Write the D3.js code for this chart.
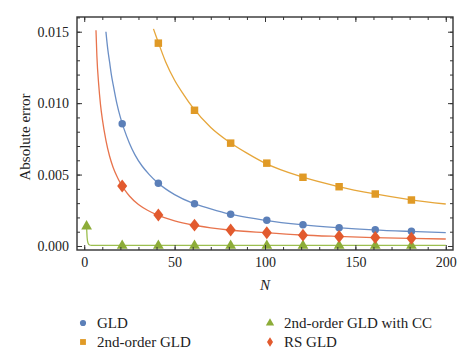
<!DOCTYPE html>
<html><head><meta charset="utf-8">
<script src="https://cdn.jsdelivr.net/npm/d3@7"></script>
<style>
body{margin:0;background:#fff;}
svg{display:block;font-family:"Liberation Serif","DejaVu Serif",serif;}
</style></head>
<body><svg id="c" width="474" height="364"></svg>
<script>
// ---- data ----
const seriesNames = ["GLD","2nd-order GLD","2nd-order GLD with CC","RS GLD"];
// curve samples
const gldCurveN = [12,13,14,15,16,18,20,22,25,28,32,36,40,45,50,60,70,80,90,100,120,140,160,180,200];
const gldCurveV = [0.0150,0.0138,0.0129,0.0120,0.0113,0.0100,0.0090,0.0082,0.0072,0.0064,0.0056,0.0050,0.0045,0.0040,0.0036,0.0030,0.0026,0.00225,0.0020,0.0018,0.0015,0.00129,0.00113,0.00102,0.00093];
const ordCurveN = [38.3,40,45,50,55,60,70,80,90,100,120,140,160,180,200];
const ordCurveV = [0.0152,0.0146,0.0129,0.0116,0.0106,0.0097,0.0083,0.0073,0.0065,0.0058,0.00485,0.00418,0.00366,0.00325,0.00294];
const ccCurveN = [1.3,1.6,2,2.5,3,4,6,10,50,100,150,200];
const ccCurveV = [0.00135,0.0006,0.00025,0.00012,0.00007,0.00005,0.00005,0.00005,0.00005,0.00005,0.00005,0.00005];
const rsCurveN = [6.5,7,8,9,10,12,14,16,18,20,22,25,30,35,40,50,60,70,80,100,120,140,160,180,200];
const rsCurveV = [0.0151,0.0133,0.0113,0.0099,0.0089,0.0074,0.0063,0.0055,0.0049,0.0044,0.0040,0.0035,0.0029,0.0025,0.0022,0.00176,0.00147,0.00127,0.00112,0.00093,0.00077,0.00067,0.00059,0.00054,0.00049];
// marker points
const gldPtN = [21,41,61,81,101,121,141,161,181];
const gldPtV = [0.00855,0.0044,0.00296,0.00222,0.0018,0.00149,0.00128,0.00114,0.00103];
const ordPtN = [41,61,81,101,121,141,161,181];
const ordPtV = [0.0142,0.0095,0.0072,0.0058,0.00481,0.00415,0.00364,0.00322];
const ccPtN = [1.3,21,41,61,81,101,121,141,161,181];
const ccPtV = [0.00138,0.00002,0.00002,0.00002,0.00002,0.00002,0.00002,0.00002,0.00002,0.00002];
const rsPtN = [21,41,61,81,101,121,141,161,181];
const rsPtV = [0.0042,0.00217,0.00146,0.00112,0.00093,0.00076,0.00066,0.00059,0.00054];
const xTicks = [0,50,100,150,200];
const yTicks = [0,0.005,0.010,0.015];

// ---- layout ----
const svg = d3.select("#c");
const L=77, R=453, T=17, B=250;
const x = d3.scaleLinear().domain([-4,204]).range([L,R]);
const y = d3.scaleLinear().domain([-0.00028,0.01603]).range([B,T]);

const lineCol = ["#6b8fc6","#e6a63a","#9cbf4f","#e8734c"];
const markCol = ["#5b7fb8","#e09a26","#8cac38","#e25a2e"];

svg.append("defs").append("clipPath").attr("id","clip")
  .append("rect").attr("x",L).attr("y",T).attr("width",R-L).attr("height",B-T);

const line = d3.line().x(d=>x(d[0])).y(d=>y(d[1])).curve(d3.curveMonotoneX);
const curves = [[gldCurveN,gldCurveV],[ordCurveN,ordCurveV],[ccCurveN,ccCurveV],[rsCurveN,rsCurveV]];
const gPlot = svg.append("g").attr("clip-path","url(#clip)");
curves.forEach((c,i)=>{
  gPlot.append("path").datum(c[0].map((n,j)=>[n,c[1][j]]))
    .attr("d",line).attr("fill","none").attr("stroke",lineCol[i]).attr("stroke-width",1.3);
});

const symTypes=[d3.symbolCircle,d3.symbolSquare,d3.symbolTriangle,d3.symbolDiamond];
const symSizes=[44,56,50,48];
const pts=[[gldPtN,gldPtV],[ordPtN,ordPtV],[ccPtN,ccPtV],[rsPtN,rsPtV]];
pts.forEach((p,i)=>{
  const sym=d3.symbol().type(symTypes[i]).size(symSizes[i]);
  gPlot.selectAll(null).data(p[0].map((n,j)=>[n,p[1][j]])).join("path")
    .attr("d",sym)
    .attr("transform",d=>{
      const sx = i===3 ? "scale(1.35,1)" : "";
      return `translate(${x(d[0])},${y(d[1])}) ${sx}`;})
    .attr("fill",markCol[i]);
});

// ---- axes (frame with inward ticks) ----
const axCol="#333";
function style(g){
  g.select(".domain").remove();
  g.selectAll("line").attr("stroke",axCol).attr("stroke-width",1);
  g.selectAll("text").attr("fill","#222").attr("font-size",14).attr("font-family",'"Liberation Serif","DejaVu Serif",serif');
}
const xMinor = d3.range(0,201,10);
const yMinor = d3.range(0,0.0161,0.001);
svg.append("g").attr("transform",`translate(0,${B})`)
  .call(d3.axisBottom(x).tickValues(xMinor).tickSize(-3).tickFormat("")).call(style);
svg.append("g").attr("transform",`translate(0,${B})`)
  .call(d3.axisBottom(x).tickValues(xTicks).tickSize(-5).tickPadding(7).tickFormat(d3.format("d"))).call(style);
svg.append("g").attr("transform",`translate(0,${T})`)
  .call(d3.axisTop(x).tickValues(xMinor).tickSize(-3).tickFormat("")).call(style);
svg.append("g").attr("transform",`translate(0,${T})`)
  .call(d3.axisTop(x).tickValues(xTicks).tickSize(-5).tickFormat("")).call(style);
svg.append("g").attr("transform",`translate(${L},0)`)
  .call(d3.axisLeft(y).tickValues(yMinor).tickSize(-3).tickFormat("")).call(style);
svg.append("g").attr("transform",`translate(${L},0)`)
  .call(d3.axisLeft(y).tickValues(yTicks).tickSize(-5).tickPadding(8).tickFormat(d3.format(".3f"))).call(style);
svg.append("g").attr("transform",`translate(${R},0)`)
  .call(d3.axisRight(y).tickValues(yMinor).tickSize(-3).tickFormat("")).call(style);
svg.append("g").attr("transform",`translate(${R},0)`)
  .call(d3.axisRight(y).tickValues(yTicks).tickSize(-5).tickFormat("")).call(style);

svg.append("rect").attr("x",L).attr("y",T).attr("width",R-L).attr("height",B-T)
  .attr("fill","none").attr("stroke",axCol).attr("stroke-width",1.4);

// axis titles
svg.append("text").attr("transform","translate(30,137) rotate(-90)")
  .attr("text-anchor","middle").attr("font-size",15).attr("fill","#222").text("Absolute error");
svg.append("text").attr("x",x(100)).attr("y",290).attr("text-anchor","middle")
  .attr("font-size",15).attr("font-style","italic").attr("fill","#222").text("N");

// legend
const legPos=[[83,323],[83,342],[270,323],[270,342]];
const legSizes=[30,34,30,26];
seriesNames.forEach((s,i)=>{
  const [lx,ly]=legPos[i];
  svg.append("path").attr("d",d3.symbol().type(symTypes[i]).size(legSizes[i]))
    .attr("transform",`translate(${lx},${ly})${i===3?" scale(1.1,1)":""}`).attr("fill",markCol[i]);
  svg.append("text").attr("x",lx+14).attr("y",ly+5).attr("font-size",15).attr("fill","#222").text(s);
});
</script></body></html>
